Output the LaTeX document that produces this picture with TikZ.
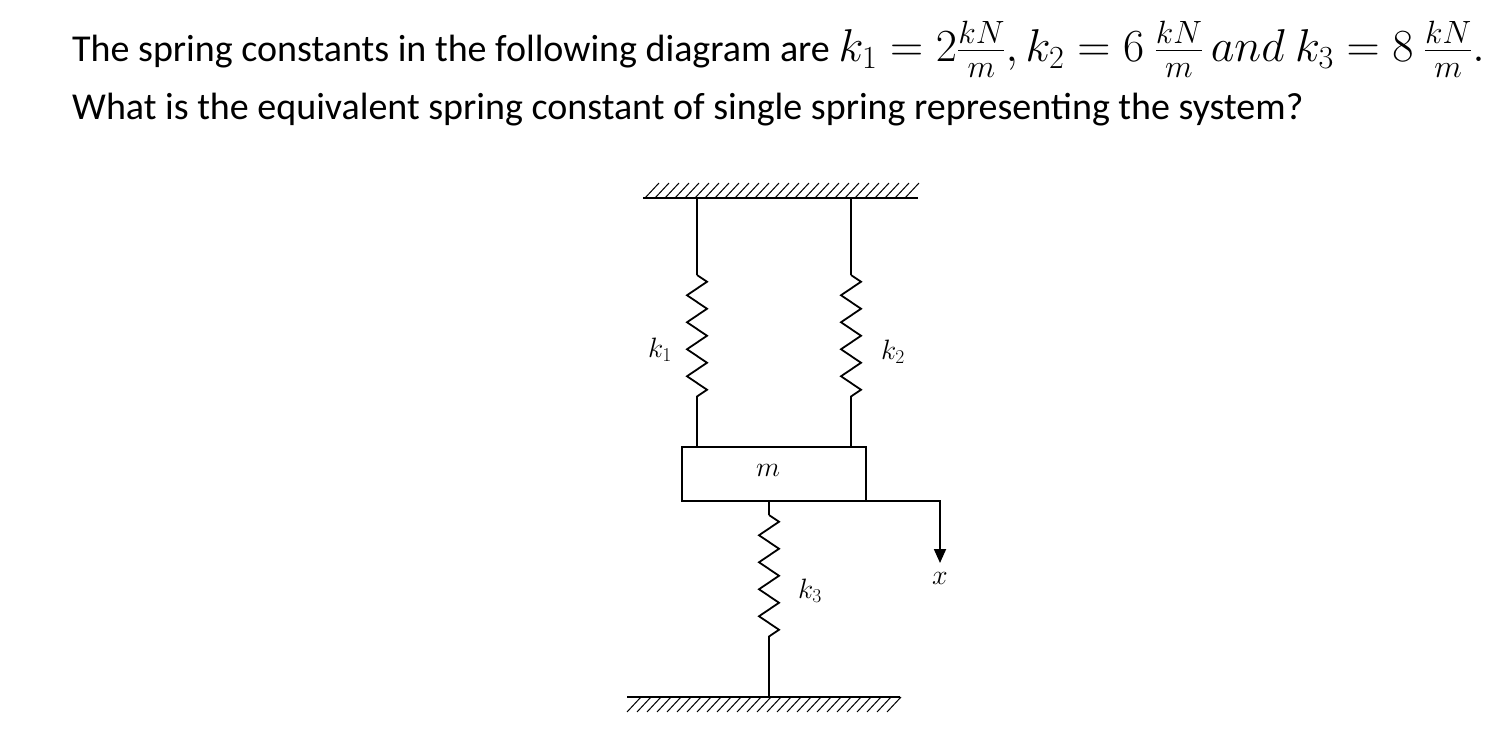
\documentclass[tikz,border=0pt]{standalone}
\usepackage{fix-cm}
\usepackage{fontspec}
\setmainfont{Carlito}
\usetikzlibrary{decorations.pathmorphing,arrows.meta}
\newcommand{\titlemath}[1]{{\fontsize{46}{50}\selectfont$#1$}}
\begin{document}
\begin{tikzpicture}[x=1pt,y=-1pt,
  wire/.style={line width=1.8pt},
  springz/.style={line width=1.8pt,decorate,decoration={zigzag,amplitude=10pt,segment length=27pt}},
  hatch/.style={line width=1pt},
  lab/.style={font=\fontsize{28}{32}\selectfont}]
\useasboundingbox (0,0) rectangle (1512,733);
\node[anchor=base west,inner sep=0,font=\fontsize{38}{44}\selectfont] (t1) at (72,62)
 {The spring constants in the following diagram are \titlemath{k_1=2\frac{kN}{m}, k_2=6\ \frac{kN}{m}\,and\ k_3=8\ \frac{kN}{m}.}};
\node[anchor=base west,inner sep=0,font=\fontsize{38}{44}\selectfont] (t2) at (72,120)
 {What is the equivalent spring constant of single spring representing the system?};
% ceiling
\coordinate (cl) at (643,198); \coordinate (cr) at (918,198);
\draw[wire] (cl) -- (cr);
\foreach \i in {0,...,26} \draw[hatch] (645+10*\i,198) -- ++(14,-15);
% ground
\coordinate (gl) at (627,697); \coordinate (gr) at (900,697);
\draw[wire] (gl) -- (gr);
\foreach \i in {0,...,26} \draw[hatch] (627+10*\i,712) -- ++(14,-15);
% mass
\node[draw,line width=1.8pt,minimum width=184pt,minimum height=54pt,inner sep=0] (m) at (774,474) {};
\node[lab] (ml) at (768,470) {$m$};
% springs
\coordinate (a1) at (697,198); \coordinate (a2) at (697,275); \coordinate (a3) at (697,398); \coordinate (a4) at (697,447);
\draw[wire] (a1)--(a2); \draw[springz] (a2)--(a3); \draw[wire] (a3)--(a4);
\coordinate (b1) at (851,198); \coordinate (b2) at (851,275); \coordinate (b3) at (851,398); \coordinate (b4) at (851,447);
\draw[wire] (b1)--(b2); \draw[springz] (b2)--(b3); \draw[wire] (b3)--(b4);
\coordinate (c1) at (769,501); \coordinate (c2) at (769,515); \coordinate (c3) at (769,642); \coordinate (c4) at (769,697);
\draw[wire] (c1)--(c2); \draw[springz] (c2)--(c3); \draw[wire] (c3)--(c4);
% x arrow
\coordinate (x0) at (866,501); \coordinate (x1) at (940,501); \coordinate (x2) at (940,563);
\draw[wire,-{Triangle[length=14pt,width=12pt]}] (x0)--(x1)--(x2);
\node[lab] (xl) at (940,578) {$x$};
\node[lab] (k1) at (660,350) {$k_1$};
\node[lab] (k2) at (893,352) {$k_2$};
\node[lab] (k3) at (810,591) {$k_3$};
\end{tikzpicture}
\end{document}
